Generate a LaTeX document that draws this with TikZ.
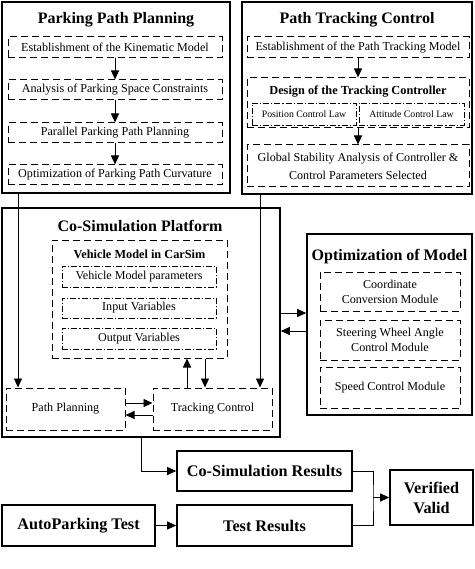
\documentclass[tikz,border=0pt]{standalone}
\usepackage{fontspec}
\setmainfont{Liberation Serif}
\usetikzlibrary{positioning}
\usetikzlibrary{calc}
\usetikzlibrary{arrows.meta,shapes}

\begin{document}
\begin{tikzpicture}[x=1pt,y=-1pt,
  outer/.style={draw,rectangle,line width=1.6pt,inner sep=0pt},
  dbox/.style={draw,rectangle,dash pattern=on 7pt off 4pt,line width=1pt,inner sep=0pt,
    align=center,font=\fontsize{12.1}{15}\selectfont},
  ddbox/.style={draw,rectangle,dash pattern=on 6pt off 2pt on 1.2pt off 2pt,line width=0.9pt,
    inner sep=0pt,align=center,font=\fontsize{12.1}{15}\selectfont},
  hd/.style={font=\fontsize{16}{19}\selectfont\bfseries},
  sub/.style={font=\fontsize{12.3}{14}\selectfont\bfseries},
  res/.style={draw,rectangle,line width=1.6pt,inner sep=0pt,align=center,
    font=\fontsize{16.2}{20}\selectfont\bfseries},
  arr/.style={-{Triangle[length=9pt,width=8pt]},line width=0.9pt}]

\useasboundingbox (0,0) rectangle (474,569);

% parking path planning
\node[outer,minimum width=228pt,minimum height=191pt] (ppp) at (116,97.5) {};
\node[hd] (ppptitle) at (116,20) {Parking Path Planning};
\node[dbox,minimum width=214pt,minimum height=21pt] (kin) at (115,47.5) {Establishment of the Kinematic Model};
\node[dbox,minimum width=214pt,minimum height=20pt] (spc) at (115,90) {Analysis of Parking Space Constraints};
\node[dbox,minimum width=214pt,minimum height=20pt] (ppl) at (115,133) {Parallel Parking Path Planning};
\node[dbox,minimum width=214pt,minimum height=20pt] (opc) at (115,175) {Optimization of Parking Path Curvature};
\draw[arr] (kin) -- (spc);
\draw[arr] (spc) -- (ppl);
\draw[arr] (ppl) -- (opc);

% path tracking control
\node[outer,minimum width=230pt,minimum height=192pt] (ptc) at (357,98) {};
\node[hd] (ptctitle) at (357,20) {Path Tracking Control};
\node[dbox,minimum width=222pt,minimum height=21pt] (ptm) at (358,47.5) {Establishment of the Path Tracking Model};
\node[dbox,minimum width=222pt,minimum height=50pt] (dtc) at (358,103) {};
\node[sub] (dtctitle) at (358,92) {Design of the Tracking Controller};
\node[ddbox,minimum width=104pt,minimum height=22pt,font=\fontsize{9.8}{11}\selectfont] (pcl) at (304,114) {Position Control Law};
\node[ddbox,minimum width=105pt,minimum height=22pt,font=\fontsize{9.8}{11}\selectfont] (acl) at (411.5,114) {Attitude Control Law};
\node[dbox,minimum width=222pt,minimum height=42pt,font=\fontsize{12.1}{18}\selectfont] (gsa) at (358,166)
  {Global Stability Analysis of Controller \&\\Control Parameters Selected};
\draw[arr] (ptm) -- (dtc);
\draw[arr] (dtc) -- (gsa);

% co-simulation platform
\node[outer,minimum width=278pt,minimum height=229pt] (csp) at (141,322.5) {};
\node[hd] (csptitle) at (140,226) {Co-Simulation Platform};
\node[dbox,minimum width=175pt,minimum height=118pt] (vmc) at (139.5,299) {};
\node[sub] (vmctitle) at (139.5,254) {Vehicle Model in CarSim};
\node[ddbox,minimum width=154pt,minimum height=21pt] (vmp) at (139,276.5) {Vehicle Model parameters};
\node[ddbox,minimum width=154pt,minimum height=20pt] (inv) at (139,308) {Input Variables};
\node[ddbox,minimum width=154pt,minimum height=21pt] (outv) at (139,338.5) {Output Variables};
\node[dbox,minimum width=119pt,minimum height=42pt] (pp) at (65.5,409) {Path Planning};
\node[dbox,minimum width=119pt,minimum height=42pt] (tc) at (212.5,409) {Tracking Control};

\coordinate (ppin) at (18,0);
\coordinate (tcin) at (260,0);
\coordinate (vup) at (187,0);
\coordinate (vdn) at (205,0);
\coordinate (pr1) at (0,403);
\coordinate (pr2) at (0,415);
\draw[arr] (ppp.south -| ppin) -- (pp.north -| ppin);
\draw[arr] (ptc.south -| tcin) -- (tc.north -| tcin);
\draw[arr] (tc.north -| vup) -- (vmc.south -| vup);
\draw[arr] (vmc.south -| vdn) -- (tc.north -| vdn);
\draw[arr] (pp.east |- pr1) -- (tc.west |- pr1);
\draw[arr] (tc.west |- pr2) -- (pp.east |- pr2);

% optimization of model
\node[outer,minimum width=165pt,minimum height=181pt] (opt) at (389.5,324.5) {};
\node[hd] (opttitle) at (389.5,257) {Optimization of Model};
\node[dbox,minimum width=140pt,minimum height=39pt] (ccm) at (390,291.5) {Coordinate\\Conversion Module};
\node[dbox,minimum width=140pt,minimum height=40pt] (swa) at (390,340) {Steering Wheel Angle\\Control Module};
\node[dbox,minimum width=140pt,minimum height=41pt] (scm) at (390,387.5) {Speed Control Module};

\coordinate (op1) at (0,313);
\coordinate (op2) at (0,331);
\draw[arr] (csp.east |- op1) -- (opt.west |- op1);
\draw[arr] (opt.west |- op2) -- (csp.east |- op2);

% results
\node[res,minimum width=175pt,minimum height=40pt] (csr) at (264.5,471) {Co-Simulation Results};
\node[res,minimum width=175pt,minimum height=41pt] (tr) at (264.5,525.5) {Test Results};
\node[res,minimum width=153pt,minimum height=41pt] (apt) at (78.5,525.5) {AutoParking Test};
\node[res,minimum width=83pt,minimum height=55pt] (vv) at (431.5,497.5) {Verified\\Valid};

\coordinate (mrg) at (373,497.5);
\draw[arr] (csp.south) |- (csr.west);
\draw[arr] (apt) -- (tr);
\draw[line width=0.9pt] (csr.east) -| (mrg) |- (tr.east);
\draw[arr] (mrg) -- (vv.west);
\end{tikzpicture}
\end{document}
